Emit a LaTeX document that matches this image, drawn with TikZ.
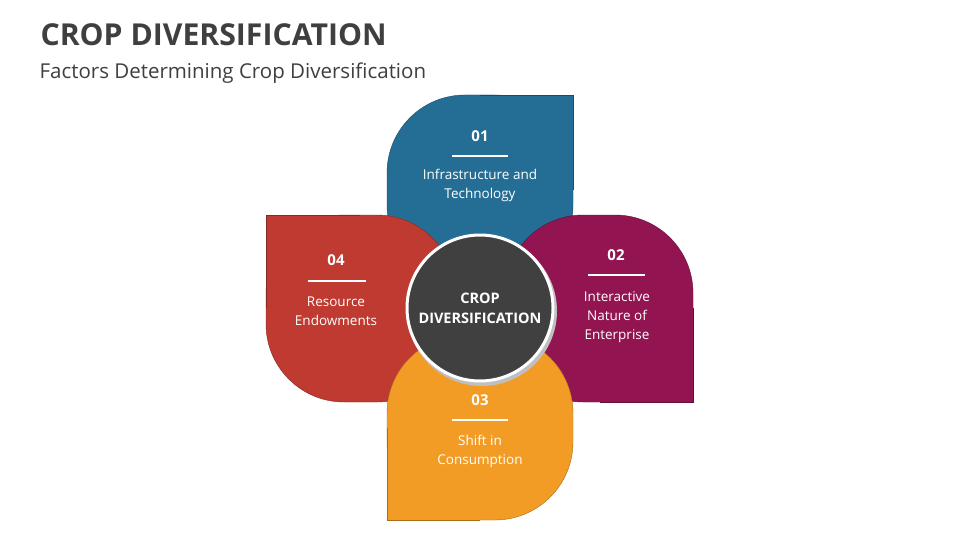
\documentclass[tikz,border=0pt]{standalone}
\usepackage{fontspec}
\setmainfont{Open Sans}
\definecolor{cb}{HTML}{246D94}
\definecolor{cp}{HTML}{921451}
\definecolor{co}{HTML}{F29C26}
\definecolor{cr}{HTML}{BF3A30}
\definecolor{cc}{HTML}{404040}
\definecolor{tt}{HTML}{3F3F3F}
\begin{document}
\begin{tikzpicture}[x=1pt,y=-1pt,
  txt/.style={text=white,font=\fontsize{13.5}{19}\selectfont,align=center},
  num/.style={text=white,font=\bfseries\fontsize{15}{18}\selectfont},
  bar/.style={white,line width=2.2pt}]
\useasboundingbox (0,0) rectangle (960,540);
\fill[white] (0,0) rectangle (960,540);
\node[anchor=west,text=tt,font=\bfseries\fontsize{30.2}{34}\selectfont] (title) at (37,35) {CROP DIVERSIFICATION};
\node[anchor=west,text=tt,font=\fontsize{20.5}{24}\selectfont] (sub) at (36,73) {Factors Determining Crop Diversification};
% blue
\fill[cb,draw=cb!70!black,rounded corners=78] (387,95) rectangle (573,283);
\fill[cb] (480,95) rectangle (573,190);
\draw[cb!70!black] (480,95) -- (573,95) -- (573,190);
% purple
\fill[cp,draw=cp!70!black,rounded corners=78] (505,215) rectangle (693,402);
\fill[cp] (600,308) rectangle (693,402);
\draw[cp!70!black] (693,308) -- (693,402) -- (600,402);
% red
\fill[cr,draw=cr!70!black,rounded corners=78] (266,215) rectangle (455,402);
\fill[cr] (266,215) rectangle (360,308);
\draw[cr!70!black] (360,215) -- (266,215) -- (266,308);
% orange
\fill[co,draw=co!70!black,rounded corners=78] (387,335) rectangle (573,520);
\fill[co] (387,428) rectangle (480,520);
\draw[co!70!black] (387,428) -- (387,520) -- (480,520);
% circle
\fill[black!25] (482,311) circle (75);
\node[circle,fill=cc,draw=white,line width=3pt,minimum size=146pt,text=white,
  font=\bfseries\fontsize{14.5}{20}\selectfont,align=center] (c) at (480,308) {CROP\\DIVERSIFICATION};
% texts
\node[num] (n1) at (480,136) {01};
\draw[bar] (452,156) -- (508,156);
\node[txt] (t1) at (480,185) {Infrastructure and\\Technology};
\node[num] (n2) at (616,255) {02};
\draw[bar] (588,275) -- (645,275);
\node[txt] (t2) at (617,317) {Interactive\\Nature of\\Enterprise};
\node[num] (n3) at (480,400) {03};
\draw[bar] (452,420) -- (508,420);
\node[txt] (t3) at (480,451) {Shift in\\Consumption};
\node[num] (n4) at (336,260) {04};
\draw[bar] (308,281) -- (366,281);
\node[txt] (t4) at (336,311) {Resource\\Endowments};
\end{tikzpicture}
\end{document}
